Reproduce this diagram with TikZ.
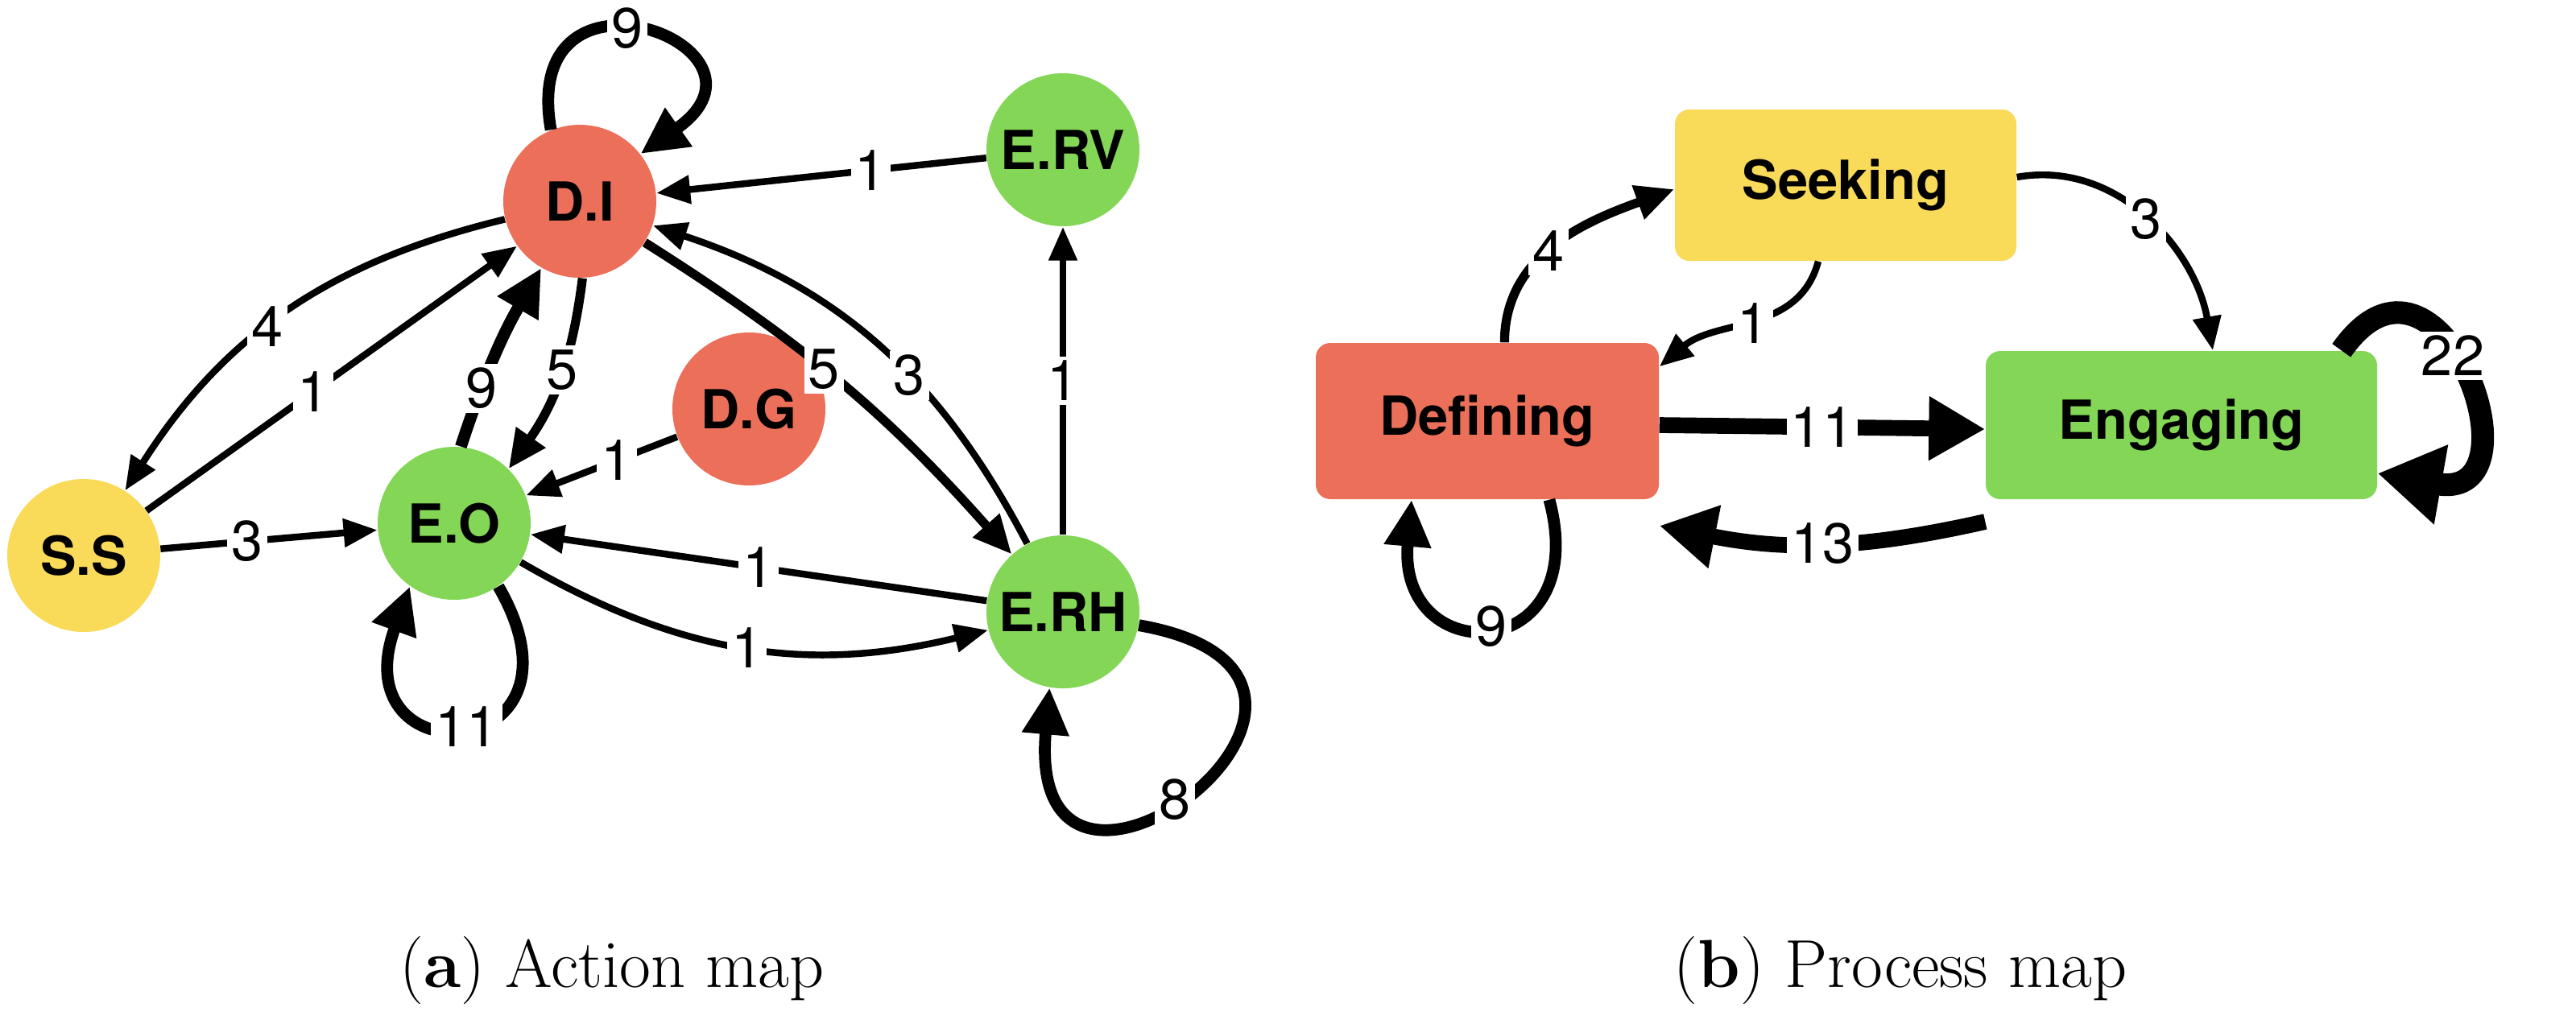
\documentclass[tikz,border=0pt]{standalone}
\usepackage{fontspec}
\newfontfamily\hv{TeX Gyre Heros}
\usetikzlibrary{arrows.meta,calc}
\definecolor{cred}{HTML}{EC6F5A}
\definecolor{cgreen}{HTML}{84D656}
\definecolor{cyel}{HTML}{F9DA59}
\tikzset{
  st/.style={circle,minimum size=1.9cm,inner sep=0pt,font=\hv\bfseries\fontsize{19}{19}\selectfont},
  bx/.style={rectangle,rounded corners=0.18cm,inner sep=0pt,font=\hv\bfseries\fontsize{19}{19}\selectfont},
  lbl/.style={fill=white,inner sep=1.5pt,font=\hv\fontsize{20}{20}\selectfont},
  e1/.style={line width=2.4pt,-{Triangle[length=0.42cm,width=0.34cm]}},
  e2/.style={line width=3.2pt,-{Triangle[length=0.48cm,width=0.42cm]}},
  e3/.style={line width=4.2pt,-{Triangle[length=0.58cm,width=0.55cm]}},
  e4/.style={line width=5.6pt,-{Triangle[length=0.7cm,width=0.75cm]}},
  e5/.style={line width=8pt,-{Triangle[length=0.8cm,width=0.95cm]}},
}
\begin{document}
\begin{tikzpicture}
\useasboundingbox (0,0) rectangle (31.99,-12.66);
% action map
\node[st,fill=cred]   (di)  at (7.20,-2.50) {D.I};
\node[st,fill=cgreen] (erv) at (13.20,-1.86) {E.RV};
\node[st,fill=cred]   (dg)  at (9.30,-5.08) {D.G};
\node[st,fill=cyel]   (ss)  at (1.04,-6.90) {S.S};
\node[st,fill=cgreen] (eo)  at (5.64,-6.50) {E.O};
\node[st,fill=cgreen] (erh) at (13.20,-7.60) {E.RH};

\draw[e3] (di.112) to[out=100,in=35,looseness=5.2] node[lbl,pos=0.45]{9} (di.38);
\draw[e1] (erv) -- node[lbl,pos=0.35]{1} (di);
\draw[e1] (erh) to[bend right=22] node[lbl,pos=0.4]{3} (di);
\draw[e2] (di) to[bend left=8] node[lbl,pos=0.45]{5} (erh);
\draw[e1] (di) to[bend right=22] node[lbl,pos=0.55]{4} (ss);
\draw[e1] (ss) to node[lbl,pos=0.45]{1} (di);
\draw[e3] (eo.85) to[bend left=6] node[lbl,pos=0.3]{9} (di.-120);
\draw[e2] (di.-88) to[bend left=14] node[lbl,pos=0.45]{5} (eo.45);
\draw[e1] (dg) -- node[lbl,pos=0.4]{1} (eo);
\draw[e1] (ss) -- node[lbl,pos=0.4]{3} (eo);
\draw[e1] (erh) -- node[lbl,pos=0.5]{1} (eo);
\draw[e1] (eo) to[bend right=22] node[lbl,pos=0.5]{1} (erh);
\draw[e1] (erh) -- node[lbl,pos=0.5]{1} (erv);
\draw[e3] (eo.-55) to[out=-60,in=-110,looseness=6] node[lbl,pos=0.5]{11} (eo.-125);
\draw[e3] (erh.-10) to[out=-10,in=-95,looseness=7] node[lbl,pos=0.55]{8} (erh.-100);

% process map
\node[bx,fill=cyel,minimum width=4.24cm,minimum height=1.88cm]   (seek) at (22.92,-2.30) {Seeking};
\node[bx,fill=cred,minimum width=4.26cm,minimum height=1.94cm]   (def)  at (18.47,-5.23) {Defining};
\node[bx,fill=cgreen,minimum width=4.86cm,minimum height=1.84cm] (eng)  at (27.09,-5.28) {Engaging};

\coordinate (dtop) at ($(def.north west)!0.55!(def.north east)$);
\draw[e2] (dtop) to[out=90,in=200] node[lbl,pos=0.45]{4} ($(seek.west)+(0,-0.05)$);
\coordinate (sbot) at ($(seek.south west)!0.42!(seek.south east)$);
\draw[e1] (sbot) to[out=-105,in=40] node[lbl,pos=0.5]{1} ($(def.north east)+(0,-0.3)$);
\coordinate (etop) at ($(eng.north west)!0.58!(eng.north east)$);
\draw[e1] ($(seek.east)+(0,0.1)$) to[out=10,in=100] node[lbl,pos=0.5]{3} (etop);
\draw[e4] ($(def.east)+(0,-0.05)$) -- node[lbl,pos=0.5]{11} ($(eng.west)+(0,-0.05)$);
\draw[e4] ($(eng.west)+(0,-1.2)$) to[bend left=12] node[lbl,pos=0.5]{13} ($(def.east)+(0,-1.3)$);
\coordinate (dbr) at ($(def.south west)!0.68!(def.south east)$);
\coordinate (dbl) at ($(def.south west)!0.28!(def.south east)$);
\draw[e3] (dbr) to[out=-75,in=-95,looseness=3.2] node[lbl,pos=0.5]{9} (dbl);
\coordinate (etr) at ($(eng.north east)+(-0.45,0)$);
\draw[e5] (etr) to[out=55,in=-10,looseness=3.4] node[lbl,pos=0.45]{22} ($(eng.east)+(0,-0.6)$);

% captions
\node (capa) at (7.60,-12.05) {\fontsize{24}{24}\selectfont(\textbf{a}) Action map};
\node (capb) at (23.60,-12.05) {\fontsize{24}{24}\selectfont(\textbf{b}) Process map};
\end{tikzpicture}
\end{document}
